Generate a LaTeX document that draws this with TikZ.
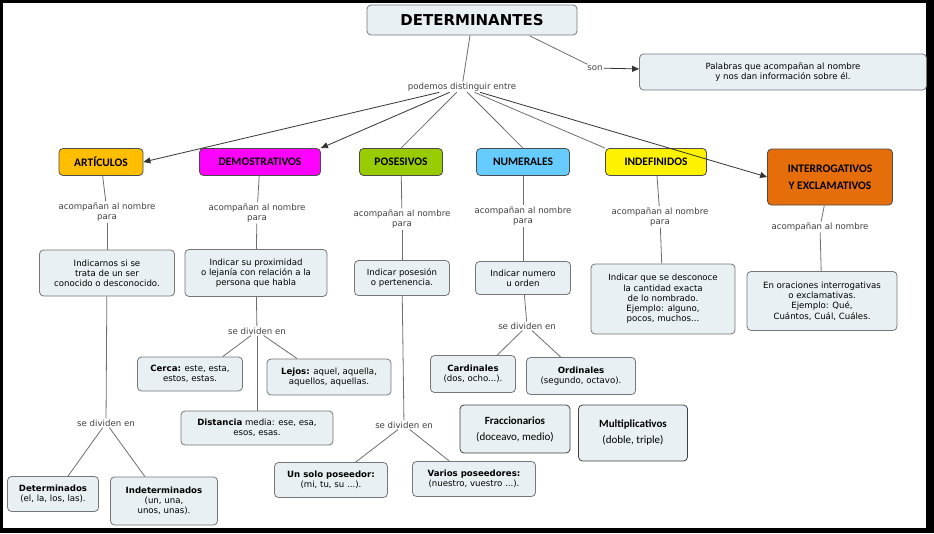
\documentclass[tikz,border=0pt]{standalone}
\usepackage{fontspec}
\setmainfont{DejaVu Sans}
\newfontfamily\calfont{Carlito}
\usetikzlibrary{arrows.meta}
\definecolor{boxfill}{HTML}{E9F0F3}
\definecolor{boxdraw}{HTML}{767676}
\definecolor{lnk}{HTML}{6E6E6E}
\definecolor{lbl}{HTML}{404040}
\tikzset{
 every node/.style={font=\fontsize{8.6}{10.2}\selectfont, align=center, inner sep=0pt},
 cbox/.style={draw=boxdraw, fill=boxfill, rounded corners=4pt, line width=0.8pt, minimum width=#1, inner sep=2pt},
 hbox/.style={draw=black!70, rounded corners=4pt, line width=0.8pt, minimum height=27, font=\calfont\bfseries\fontsize{11.5}{13}\selectfont},
 lab/.style={text=lbl, fill=white, inner sep=1pt},
 ln/.style={draw=lnk, line width=0.8pt},
 arr/.style={ln, draw=black!80, -{Triangle[length=7pt,width=6pt]}},
}
\begin{document}
\begin{tikzpicture}[x=1pt,y=-1pt]
\fill[black] (0,0) rectangle (934,533);
\fill[white] (3,3) rectangle (926,528);
\useasboundingbox (0,0) rectangle (934,533);
% top
\node[cbox=210, minimum height=30, font=\bfseries\fontsize{15}{17}\selectfont] (det) at (472,20) {DETERMINANTES};
\node[lab] (son) at (595,68) {son};
\node[cbox=287, minimum height=36] (pal) at (783,72) {Palabras que acompañan al nombre\\y nos dan información sobre él.};
\node[lab] (pod) at (462,87) {podemos distinguir entre};
\draw[ln] (det.south -| 470,0) -- (pod);
\draw[ln] (530,36) -- (son);
\draw[arr] (son) -- (pal);
% headers
\node[hbox, fill={rgb,255:red,255;green,190;blue,0}, minimum width=84] (art) at (101,162) {ARTÍCULOS};
\node[hbox, fill={rgb,255:red,255;green,0;blue,255}, minimum width=121] (dem) at (260,162) {DEMOSTRATIVOS};
\node[hbox, fill={rgb,255:red,153;green,204;blue,0}, minimum width=83] (pos) at (401,162) {POSESIVOS};
\node[hbox, fill={rgb,255:red,102;green,204;blue,255}, minimum width=93] (num) at (523,162) {NUMERALES};
\node[hbox, fill=yellow, minimum width=101] (ind) at (656,162) {INDEFINIDOS};
\node[hbox, fill={rgb,255:red,230;green,110;blue,10}, minimum width=125, minimum height=56] (int) at (830,177) {INTERROGATIVOS\\[4pt]Y EXCLAMATIVOS};
\draw[arr] (pod) -- (art.east);
\draw[arr] (pod) -- (dem.north east);
\draw[ln] (pod) -- (pos.north);
\draw[ln] (pod) -- (num.north);
\draw[ln] (pod) -- (ind.north west);
\draw[arr] (pod) -- (int.west);
% labels level 2
\node[lab] (la1) at (107,212) {acompañan al nombre\\para};
\node[lab] (la2) at (257,213) {acompañan al nombre\\para};
\node[lab] (la3) at (402,219) {acompañan al nombre\\para};
\node[lab] (la4) at (523,216) {acompañan al nombre\\para};
\node[lab] (la5) at (660,217) {acompañan al nombre\\para};
\node[lab] (la6) at (820,227) {acompañan al nombre};
\node[cbox=135, minimum height=46] (b1) at (107,273) {Indicarnos si se\\trata de un ser\\conocido o desconocido.};
\node[cbox=142, minimum height=47] (b2) at (256,273) {Indicar su proximidad\\o lejanía con relación a la\\persona que habla};
\node[cbox=95, minimum height=35] (b3) at (402,278) {Indicar posesión\\o pertenencia.};
\node[cbox=95, minimum height=33] (b4) at (523,278) {Indicar numero\\u orden};
\node[cbox=144, minimum height=70] (b5) at (663,299) {Indicar que se desconoce\\la cantidad exacta\\de lo nombrado.\\Ejemplo: alguno,\\pocos, muchos...};
\node[cbox=150, minimum height=59] (b6) at (822,301) {En oraciones interrogativas\\o exclamativas.\\Ejemplo: Qué,\\Cuántos, Cuál, Cuáles.};
\foreach \h/\l/\b in {art/la1/b1, dem/la2/b2, pos/la3/b3, num/la4/b4, ind/la5/b5, int/la6/b6}{
  \draw[ln] (\h) -- (\l); \draw[ln] (\l) -- (\b);}
% articulos
\node[lab] (sd1) at (106,423) {se dividen en};
\node[cbox=91, minimum height=35] (detm) at (53,494) {\textbf{Determinados}\\(el, la, los, las).};
\node[cbox=107, minimum height=48] (indt) at (164,501) {\textbf{Indeterminados}\\(un, una,\\unos, unas).};
\draw[ln] (b1) -- (sd1); \draw[ln] (sd1) -- (detm.50); \draw[ln] (sd1) -- (indt.128);
% demostrativos
\node[lab] (sd2) at (257,331) {se dividen en};
\node[cbox=105, minimum height=34] (cer) at (190,374) {\textbf{Cerca:} este, esta,\\estos, estas.};
\node[cbox=124, minimum height=36] (lej) at (329,377) {\textbf{Lejos:} aquel, aquella,\\aquellos, aquellas.};
\node[cbox=152, minimum height=34] (dis) at (257,428) {\textbf{Distancia} media: ese, esa,\\esos, esas.};
\draw[ln] (b2) -- (sd2); \draw[ln] (sd2) -- (cer.28); \draw[ln] (sd2) -- (lej.150); \draw[ln] (sd2) -- (dis);
% posesivos
\node[lab] (sd3) at (404,425) {se dividen en};
\node[cbox=113, minimum height=35] (uno) at (331,480) {\textbf{Un solo poseedor:}\\(mi, tu, su ...).};
\node[cbox=123, minimum height=35] (var) at (474,479) {\textbf{Varios poseedores:}\\(nuestro, vuestro ...).};
\draw[ln] (b3) -- (sd3); \draw[ln] (sd3) -- (uno.36); \draw[ln] (sd3) -- (var.144);
% numerales
\node[lab] (sd4) at (527,326) {se dividen en};
\node[cbox=85, minimum height=37] (car) at (473,374) {\textbf{Cardinales}\\(dos, ocho...).};
\node[cbox=109, minimum height=37] (ord) at (581,376) {\textbf{Ordinales}\\(segundo, octavo).};
\draw[ln] (b4) -- (sd4); \draw[ln] (sd4) -- (car.38); \draw[ln] (sd4) -- (ord.137);
\node[cbox=110, minimum height=48, draw=black!75, font=\calfont\fontsize{11}{16}\selectfont] (fra) at (515,429) {\textbf{Fraccionarios}\\(doceavo, medio)};
\node[cbox=109, minimum height=56, draw=black!75, font=\calfont\fontsize{11}{16}\selectfont] (mul) at (633,433) {\textbf{Multiplicativos}\\(doble, triple)};
\end{tikzpicture}
\end{document}
